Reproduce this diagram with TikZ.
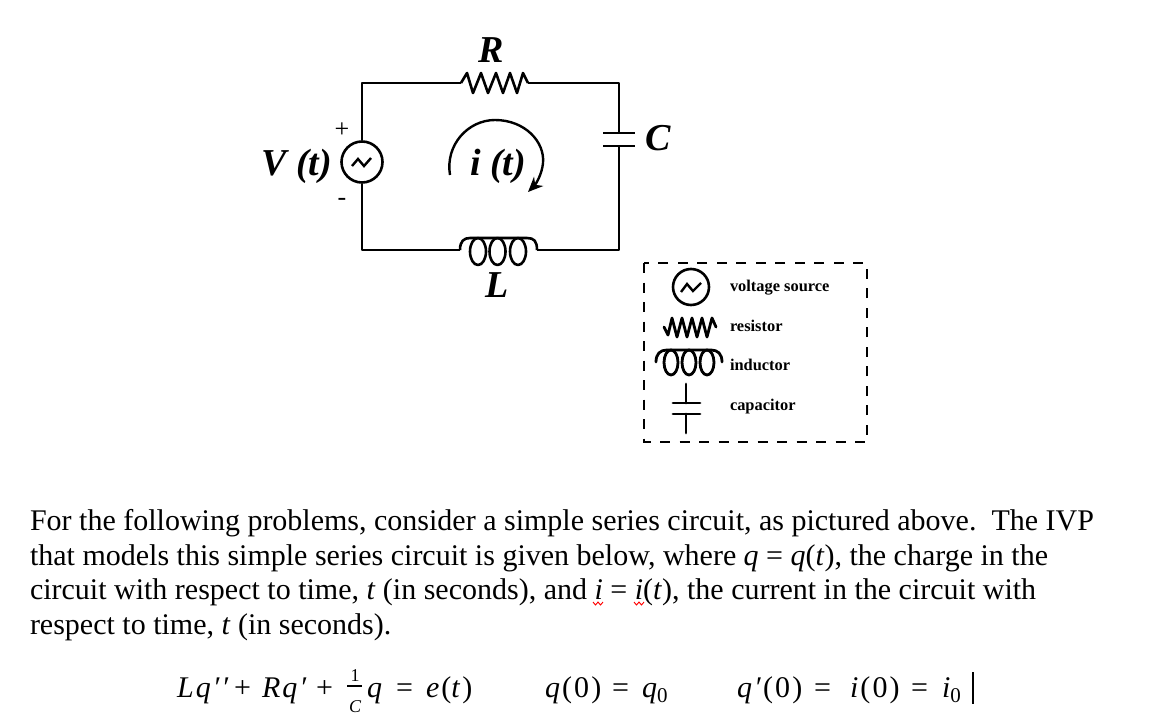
\documentclass[tikz,border=0pt]{standalone}
\usepackage{fontspec}
\setmainfont{Liberation Serif}
\usetikzlibrary{arrows.meta}
\newcommand{\para}{\fontsize{30}{35}\selectfont}
\newcommand{\lab}{\fontsize{38}{42}\selectfont\bfseries\itshape}
\newcommand{\leg}{\fontsize{16.4}{18}\selectfont\bfseries}
\newcommand{\eqn}{\fontsize{30}{32}\selectfont\itshape\addfontfeature{LetterSpace=7}}
\newcommand{\upr}[1]{\textup{#1}}
\tikzset{
  wire/.style={line width=2.6pt,black,line join=round},
  sym/.style={line width=2.8pt,black,line join=round,line cap=round},
  source/.style={circle,draw,line width=2.6pt,inner sep=0pt,minimum size=#1},
  txt/.style={inner sep=0pt,outer sep=0pt,anchor=base west},
  txtc/.style={inner sep=0pt,outer sep=0pt,anchor=base},
}
\begin{document}
\begin{tikzpicture}[x=1pt,y=-1pt]
\useasboundingbox (0,0) rectangle (1150,720);
% circuit anchors
\node[source=41pt] (src) at (362,162) {};
\coordinate (resL) at (461,83);
\coordinate (resR) at (528,83);
\coordinate (indL) at (460,250);
\coordinate (indR) at (537,250);
\coordinate (capT) at (619,133);
\coordinate (capB) at (619,146);
% wires
\draw[wire] (src.north) |- (resL);
\draw[wire] (resR) -| (capT);
\draw[wire] (capB) |- (indR);
\draw[wire] (indL) -| (src.south);
% resistor
\draw[wire] (resL) -- (467,73) -- (473,93) -- (481,73) -- (488,93) -- (496,73) -- (503,93) -- (510,73) -- (517,93) -- (523,73) -- (resR);
% inductor
\draw[wire] (indL) .. controls (460,241) and (464,238) .. (470,238) -- (527,238) .. controls (534,238) and (537,241) .. (indR);
\draw[wire] (478,251.5) ellipse [x radius=8,y radius=13.5];
\draw[wire] (497.5,251.5) ellipse [x radius=8,y radius=13.5];
\draw[wire] (518,251.5) ellipse [x radius=8,y radius=13.5];
% capacitor
\draw[wire] (603,133) -- (635,133);
\draw[wire] (603,146) -- (635,146);
% source glyph
\draw[line width=2.4pt] (352,166) -- (358,159) -- (364,166) -- (371,158);
% current arrow
\draw[line width=2.4pt,-{Stealth[length=15pt,width=13pt]}] (450,175) .. controls (445,145) and (468,120) .. (495,120) .. controls (525,120) and (545,142) .. (543,163) .. controls (542,174) and (536,184) .. (528,192);
% labels
\node[txtc] (lR) at (491,62) {\lab R};
\node[txt] (lC) at (645,150) {\lab C};
\node[txtc] (lL) at (497,297) {\lab L};
\node[inner sep=0pt,outer sep=0pt,anchor=base east] (lV) at (332,175) {\lab V (t)};
\node[txt] (lI) at (470,175) {\lab i (t)};
\node[txtc] (plus) at (342,137) {\fontsize{26}{28}\selectfont +};
\node[txtc] (minus) at (342,205) {\fontsize{26}{28}\selectfont -};
% legend
\draw[line width=2.6pt,dash pattern=on 10pt off 9.5pt] (644,263) rectangle (867,442);
\node[source=36pt] (lsrc) at (691,287) {};
\draw[line width=2.4pt] (681,292) -- (687,284) -- (693,291) -- (701,283);
\draw[sym] (664,327) -- (668,335) -- (672,318) -- (677,337) -- (682,318) -- (687,337) -- (692,318) -- (697,337) -- (702,318) -- (707,337) -- (712,318) -- (716,327);
\draw[sym] (656,362) .. controls (656,354) and (660,350) .. (667,350) -- (711,350) .. controls (718,350) and (722,354) .. (722,362);
\draw[sym] (671,362.5) ellipse [x radius=7,y radius=12.5];
\draw[sym] (689,362.5) ellipse [x radius=7,y radius=12.5];
\draw[sym] (707,362.5) ellipse [x radius=7,y radius=12.5];
\draw[sym] (686,384) -- (686,403);
\draw[sym] (673,403) -- (700,403);
\draw[sym] (673,414) -- (700,414);
\draw[sym] (686,414) -- (686,433);
\node[txt] (t1) at (730,291) {\leg voltage source};
\node[txt] (t2) at (730,331) {\leg resistor};
\node[txt] (t3) at (730,370) {\leg inductor};
\node[txt] (t4) at (730,410) {\leg capacitor};
% paragraph
\node[txt] (p1) at (30,530) {\para For the following problems, consider a simple series circuit, as pictured above.\ \ The IVP};
\node[txt] (p2) at (30,565) {\para that models this simple series circuit is given below, where \textit{q} = \textit{q}(\textit{t}), the charge in the};
\node[txt] (p3) at (30,599) {\para circuit with respect to time, \textit{t} (in seconds), and \textit{i} = \textit{i}(\textit{t}), the current in the circuit with};
\node[txt] (p4) at (30,634) {\para respect to time, \textit{t} (in seconds).};
\draw[red,line width=0.9pt] (593,602) -- (595.5,605) -- (598,602) -- (600.5,605) -- (603,602);
\draw[red,line width=0.9pt] (634,602) -- (636.5,605) -- (639,602) -- (641.5,605) -- (644,602);
% equation
\node[txt] (e1a) at (177,697) {\eqn Lq′′};
\node[txt] (e1b) at (234,697) {\eqn \upr{+}};
\node[txt] (e1c) at (262,697) {\eqn Rq′};
\node[txt] (e1d) at (316,697) {\eqn \upr{+}};
\node[txtc] (f1) at (355,681) {\fontsize{18}{18}\selectfont 1};
\draw[line width=1.2pt] (347,686) -- (362,686);
\node[txtc] (f2) at (355,712) {\fontsize{18}{18}\selectfont\itshape C};
\node[txt] (e2a) at (367,697) {\eqn q};
\node[txt] (e2b) at (396,697) {\eqn \upr{=}};
\node[txt] (e2c) at (426,697) {\eqn e\upr{(}t\upr{)}};
\node[txt] (e3a) at (545,697) {\eqn q\upr{(0)}};
\node[txt] (e3b) at (612,697) {\eqn \upr{=}};
\node[txt] (e3c) at (642,697) {\eqn q\textsubscript{\upr{0}}};
\node[txt] (e4a) at (737,697) {\eqn q′\upr{(0)}};
\node[txt] (e4b) at (814,697) {\eqn \upr{=}};
\node[txt] (e4c) at (850,697) {\eqn i\upr{(0)}};
\node[txt] (e4d) at (911,697) {\eqn \upr{=}};
\node[txt] (e4e) at (942,697) {\eqn i\textsubscript{\upr{0}}};
\draw[line width=1.2pt] (973,672) -- (973,704);
\end{tikzpicture}
\end{document}
